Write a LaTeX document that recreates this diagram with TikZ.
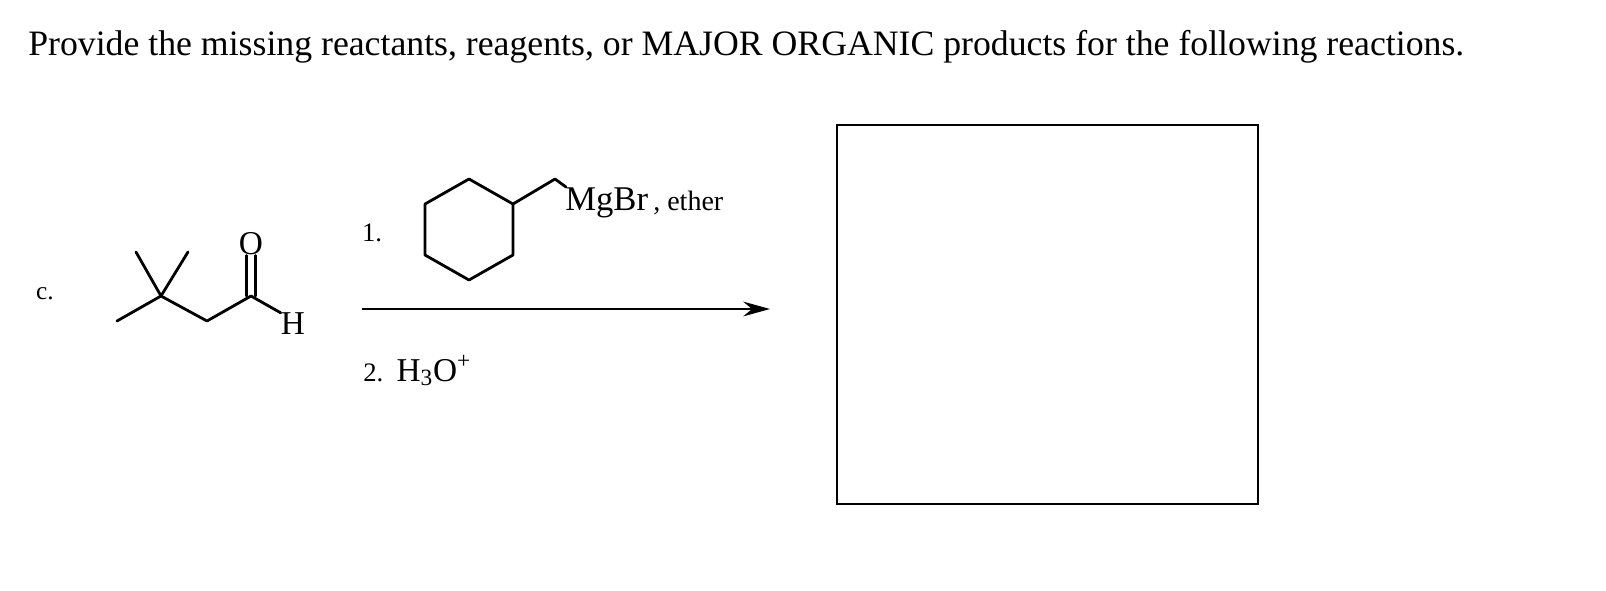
\documentclass[tikz,border=0pt]{standalone}
\usepackage{fontspec}
\setmainfont{Liberation Serif}
\usetikzlibrary{arrows.meta}
\begin{document}
\begin{tikzpicture}[x=0.75pt,y=-0.75pt,
  bond/.style={line width=2.1pt,line cap=round,line join=round},
  lbl/.style={inner sep=0pt,font=\fontsize{25}{30}\selectfont}]
\useasboundingbox (0,0) rectangle (1606,590);
\node[anchor=west,inner sep=0pt,font=\fontsize{26.8}{32}\selectfont] (title) at (28,47) {Provide the missing reactants, reagents, or MAJOR ORGANIC products for the following reactions.};
\node[lbl,font=\fontsize{19}{22}\selectfont] (c) at (45,294) {c.};
% aldehyde
\coordinate (m1) at (117,321);
\coordinate (q) at (161,296);
\coordinate (m2) at (136,252);
\coordinate (m3) at (188,252);
\coordinate (ch2) at (207,321);
\coordinate (cc) at (251,296);
\node[lbl] (O) at (251,244) {O};
\node[lbl] (H) at (293,324) {H};
\draw[bond] (m1)--(q)--(ch2)--(cc)--(H.north west);
\draw[bond] (m2)--(q)--(m3);
\draw[bond] ([xshift=-3.5pt]cc)--([xshift=-3.5pt]O.south);
\draw[bond] ([xshift=3.5pt]cc)--([xshift=3.5pt]O.south);
% cyclohexane reagent
\coordinate (r1) at (469,179);
\coordinate (r2) at (513,204);
\coordinate (r3) at (513,255);
\coordinate (r4) at (469,280);
\coordinate (r5) at (425,255);
\coordinate (r6) at (425,204);
\draw[bond] (r1)--(r2)--(r3)--(r4)--(r5)--(r6)--cycle;
\node[lbl,anchor=west,font=\fontsize{26}{30}\selectfont] (mg) at (565,203) {MgBr};
\coordinate (ch) at (555,179);
\coordinate (mgb) at (566,187);
\draw[bond] (r2)--(ch)--(mgb);
\node[lbl,anchor=west,font=\fontsize{21}{24}\selectfont] (eth) at (mg.east) {\,, ether};
\node[lbl,font=\fontsize{20}{24}\selectfont] (one) at (372,233) {1.};
\node[lbl,anchor=west,font=\fontsize{20}{24}\selectfont] (two) at (363,371) {2.\ \ \fontsize{25}{30}\selectfont H\textsubscript{3}O\textsuperscript{+}};
% arrow
\coordinate (a1) at (362,309);
\coordinate (a2) at (770,309);
\draw[line width=2.1pt,-{Stealth[length=20pt,width=11pt]}] (a1)--(a2);
% box
\draw[line width=2.1pt] (837,125) rectangle (1258,504);
\end{tikzpicture}
\end{document}
